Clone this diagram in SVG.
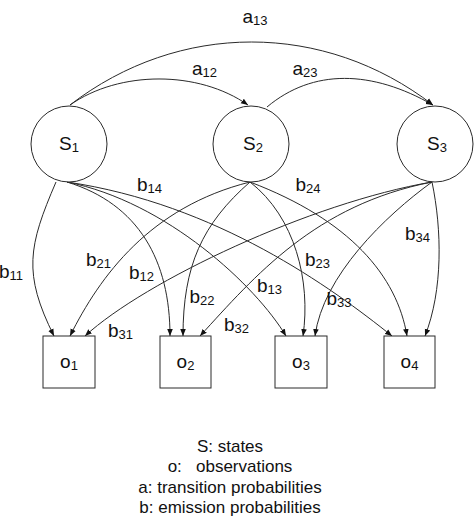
<svg xmlns="http://www.w3.org/2000/svg" width="474" height="519" viewBox="0 0 474 519">
<style>
.bg{fill:#ffffff}
.edge{fill:none;stroke:#2a2a2a;stroke-width:1;marker-end:url(#arr)}
.node{fill:#ffffff;stroke:#2a2a2a;stroke-width:1}
text{font-family:"Liberation Sans",Arial,sans-serif;fill:#111111}
.lbl{font-size:19px}
.nlbl{font-size:19px;text-anchor:middle}
.sub{font-size:13px}
.leg{font-size:17px;text-anchor:middle}
</style>
<defs>
<marker id="arr" viewBox="0 0 10 10" refX="10" refY="5" markerWidth="7" markerHeight="7" markerUnits="userSpaceOnUse" orient="auto">
<path d="M0,1 L10,5 L0,9 z" fill="#111111"/>
</marker>
</defs>
<rect class="bg" x="0" y="0" width="474" height="519"/>
<g id="connectors">
<path class="edge" d="M70,105 C179,21 324,21 433,105"/>
<path class="edge" d="M70,105 C119.5,70.3 198.5,70.3 248,105"/>
<path class="edge" d="M267,107 C313,68.4 372,70 433,105"/>
<path class="edge" d="M56,182 C28.4,246 22.7,273.4 54,336"/>
<path class="edge" d="M67,182 C139,204 170,261 170,336"/>
<path class="edge" d="M67,182 C167,202 256,286 286,336"/>
<path class="edge" d="M67,182 C217,204 332,288 392,336"/>
<path class="edge" d="M250,182 C150,207 100,276 70,336"/>
<path class="edge" d="M250,182 C202,224 183,266 183,336"/>
<path class="edge" d="M250,182 C295,217 311,281 303,336"/>
<path class="edge" d="M250,182 C350,220 397,276 407,336"/>
<path class="edge" d="M432,182 C310,203 145,281 85,336"/>
<path class="edge" d="M432,182 C315,205 255,276 200,336"/>
<path class="edge" d="M432,182 C385,216 323,276 315,336"/>
<path class="edge" d="M432,182 C442,230 443,290 425,336"/>
</g>
<g id="edge-labels">
<text class="lbl" x="242.5" y="22.5">a<tspan class="sub" dy="2">13</tspan></text>
<text class="lbl" x="192" y="75">a<tspan class="sub" dy="2">12</tspan></text>
<text class="lbl" x="292.5" y="75">a<tspan class="sub" dy="2">23</tspan></text>
<text class="lbl" x="137" y="190.5">b<tspan class="sub" dy="2">14</tspan></text>
<text class="lbl" x="295.5" y="190.5">b<tspan class="sub" dy="2">24</tspan></text>
<text class="lbl" x="405" y="240">b<tspan class="sub" dy="2">34</tspan></text>
<text class="lbl" x="-1" y="278">b<tspan class="sub" dy="2">11</tspan></text>
<text class="lbl" x="86" y="265.5">b<tspan class="sub" dy="2">21</tspan></text>
<text class="lbl" x="129" y="279">b<tspan class="sub" dy="2">12</tspan></text>
<text class="lbl" x="305" y="265.5">b<tspan class="sub" dy="2">23</tspan></text>
<text class="lbl" x="257" y="291.5">b<tspan class="sub" dy="2">13</tspan></text>
<text class="lbl" x="189.5" y="303">b<tspan class="sub" dy="2">22</tspan></text>
<text class="lbl" x="326.5" y="304.5">b<tspan class="sub" dy="2">33</tspan></text>
<text class="lbl" x="108" y="336.5">b<tspan class="sub" dy="2">31</tspan></text>
<text class="lbl" x="224" y="330.5">b<tspan class="sub" dy="2">32</tspan></text>
</g>
<g id="node-S1">
<circle class="node" cx="69" cy="144" r="38"/>
<text class="nlbl" x="69" y="150">S<tspan class="sub" dy="2">1</tspan></text>
</g>
<g id="node-S2">
<circle class="node" cx="251" cy="144" r="38"/>
<text class="nlbl" x="253" y="150">S<tspan class="sub" dy="2">2</tspan></text>
</g>
<g id="node-S3">
<circle class="node" cx="435" cy="144" r="38"/>
<text class="nlbl" x="437" y="150">S<tspan class="sub" dy="2">3</tspan></text>
</g>
<g id="node-o1">
<rect class="node" x="43" y="336" width="52" height="52"/>
<text class="nlbl" x="69" y="368">o<tspan class="sub" dy="2">1</tspan></text>
</g>
<g id="node-o2">
<rect class="node" x="160" y="336" width="51" height="52"/>
<text class="nlbl" x="185.5" y="368">o<tspan class="sub" dy="2">2</tspan></text>
</g>
<g id="node-o3">
<rect class="node" x="275" y="336" width="52" height="52"/>
<text class="nlbl" x="301" y="368">o<tspan class="sub" dy="2">3</tspan></text>
</g>
<g id="node-o4">
<rect class="node" x="384" y="336" width="51" height="52"/>
<text class="nlbl" x="409.5" y="368">o<tspan class="sub" dy="2">4</tspan></text>
</g>
<g id="legend">
<text class="leg" x="230" y="451.5">S: states</text>
<text class="leg" x="230" y="471.5" xml:space="preserve">o:   observations</text>
<text class="leg" x="230" y="492.5">a: transition probabilities</text>
<text class="leg" x="230" y="512.5">b: emission probabilities</text>
</g>
</svg>
